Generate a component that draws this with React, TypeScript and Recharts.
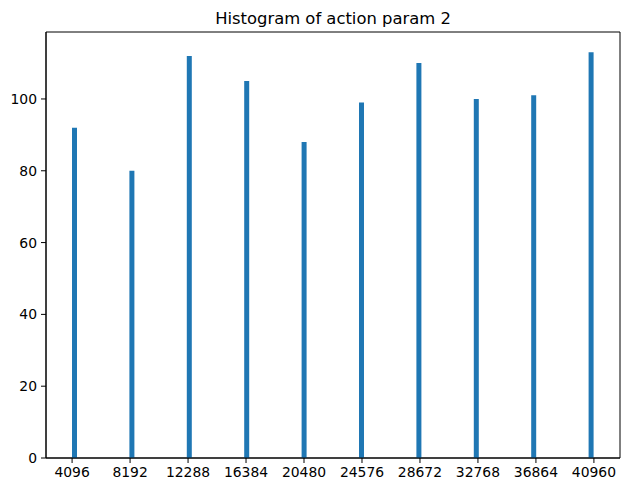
import { BarChart, Bar, XAxis, YAxis, ReferenceArea } from 'recharts';

// parameter values that were seen and how often each one came up
const paramValues = [4096, 8192, 12288, 16384, 20480, 24576, 28672, 32768, 36864, 40960];
const counts = [92, 80, 112, 105, 88, 99, 110, 100, 101, 113];
const yTicks = [0, 20, 40, 60, 80, 100];

const NUM_BINS = 100;
const FONT = "'DejaVu Sans', sans-serif";

// same binning as plt.hist(values, bins=100)
const lo = Math.min(...paramValues);
const hi = Math.max(...paramValues);
const binW = (hi - lo) / NUM_BINS;
const data = paramValues.map((v, i) => {
  const idx = Math.min(NUM_BINS - 1, Math.floor((v - lo) / binW + 1e-9));
  return { x: lo + (idx + 0.5) * binW, count: counts[i] };
});

const pad = (hi - lo) * 0.05;
const xDomain = [lo - pad, hi + pad];
const yMax = Math.max(...counts) * 1.05;

const tickStyle = { fill: '#000', fontSize: 13.9, fontFamily: FONT };

export default function App() {
  return (
    <div style={{ position: 'absolute', left: 0, top: 0, width: 630, height: 492, background: '#fff' }}>
      <svg width={630} height={40} style={{ position: 'absolute', left: 0, top: 0 }}>
        <text x={333} y={24} textAnchor="middle" fontFamily={FONT} fontSize={16.4} fill="#000">
          Histogram of action param 2
        </text>
      </svg>
      <BarChart
        width={630}
        height={492}
        data={data}
        margin={{ top: 32, right: 10, bottom: 0, left: 0 }}
        style={{ position: 'absolute', left: 0, top: 0 }}
      >
        <XAxis
          type="number"
          dataKey="x"
          domain={xDomain}
          ticks={paramValues}
          interval={0}
          height={34}
          tick={tickStyle}
          tickSize={5}
          tickMargin={4}
          axisLine={{ stroke: '#000' }}
          tickLine={{ stroke: '#000' }}
        />
        <YAxis
          type="number"
          domain={[0, yMax]}
          ticks={yTicks}
          width={46}
          tick={tickStyle}
          tickSize={5}
          tickMargin={4}
          axisLine={{ stroke: '#000' }}
          tickLine={{ stroke: '#000' }}
        />
        <Bar dataKey="count" fill="#1f77b4" barSize={5} isAnimationActive={false} />
        <ReferenceArea
          x1={xDomain[0]}
          x2={xDomain[1]}
          y1={0}
          y2={yMax}
          fill="none"
          stroke="#000"
          strokeWidth={1}
          ifOverflow="visible"
        />
      </BarChart>
    </div>
  );
}
